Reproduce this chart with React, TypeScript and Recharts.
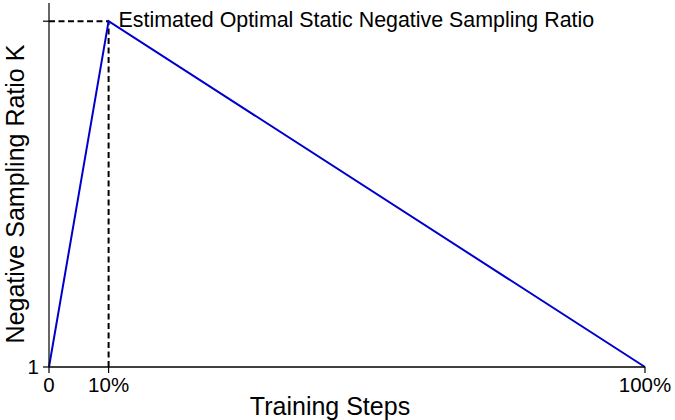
import React from 'react'
import { LineChart, Line, XAxis, YAxis, ReferenceLine, Label } from 'recharts'

// training progress (%) and negative sampling ratio
const steps = [0, 10, 100]
const ratio = [1, 20, 1]
const peakStep = 10
const peakRatio = 20
const xTicks = [0, 10, 100]
const xTickLabels: Record<number, string> = { 0: '0', 10: '10%', 100: '100%' }
const yTicks = [1, 20]
const yTickLabels: Record<number, string> = { 1: '1', 20: '' }

const data = steps.map((s, i) => ({ step: s, k: ratio[i] }))

const font = '"Liberation Sans", Arial, sans-serif'

const XTick = ({ x, y, payload }: any) => (
  <text x={x} y={y + 17} textAnchor="middle" fontSize={20.5} fontFamily={font} fill="#000">
    {xTickLabels[payload.value]}
  </text>
)

const YTick = ({ x, y, payload }: any) => (
  <text x={x - 2} y={y + 7} textAnchor="end" fontSize={20.5} fontFamily={font} fill="#000">
    {yTickLabels[payload.value]}
  </text>
)

export default function App() {
  return (
    <div style={{ position: 'absolute', left: 0, top: 0, fontFamily: font }}>
      <LineChart width={675} height={420} data={data} margin={{ top: 3, right: 30, bottom: 0, left: 0 }}>
        <XAxis
          dataKey="step"
          type="number"
          domain={[0, 100]}
          ticks={xTicks}
          height={53}
          tickSize={6}
          tickMargin={2}
          stroke="#000"
          tickLine={{ stroke: '#000', strokeWidth: 1.2 }}
          axisLine={{ stroke: '#000', strokeWidth: 1.5 }}
          tick={<XTick />}
        >
          <Label
            content={({ viewBox }: any) => (
              <text x={viewBox.x + viewBox.width / 2 - 17} y={415} textAnchor="middle" fontSize={25} fontFamily={font} fill="#000">
                Training Steps
              </text>
            )}
          />
        </XAxis>
        <XAxis xAxisId="top" orientation="top" type="number" domain={[0, 100]} height={0} tick={false} tickLine={false} axisLine={{ stroke: '#000', strokeWidth: 1.5 }} />
        <YAxis
          type="number"
          domain={[1, 21]}
          ticks={yTicks}
          width={49}
          tickSize={6}
          tickMargin={2}
          stroke="#000"
          tickLine={{ stroke: '#000', strokeWidth: 1.2 }}
          axisLine={{ stroke: '#000', strokeWidth: 1.2 }}
          tick={<YTick />}
        >
          <Label
            content={({ viewBox }: any) => {
              const cx = 24
              const cy = viewBox.y + viewBox.height / 2 + 9
              return (
                <text x={cx} y={cy} transform={`rotate(-90 ${cx} ${cy})`} textAnchor="middle" fontSize={25} fontFamily={font} fill="#000">
                  Negative Sampling Ratio K
                </text>
              )
            }}
          />
        </YAxis>
        <YAxis yAxisId="right" orientation="right" type="number" domain={[1, 21]} width={0} tick={false} tickLine={false} axisLine={{ stroke: '#000', strokeWidth: 1.2 }} />
        <ReferenceLine
          segment={[{ x: 0, y: peakRatio }, { x: peakStep, y: peakRatio }]}
          stroke="#000"
          strokeWidth={2}
          strokeDasharray="6 3.5"
        />
        <ReferenceLine
          segment={[{ x: peakStep, y: 1 }, { x: peakStep, y: peakRatio }]}
          stroke="#000"
          strokeWidth={2}
          strokeDasharray="6 3.5"
        >
          <Label
            content={({ viewBox }: any) => (
              <text x={viewBox.x + 10} y={viewBox.y + 6} fontSize={21.4} fontFamily={font} fill="#000">
                Estimated Optimal Static Negative Sampling Ratio
              </text>
            )}
          />
        </ReferenceLine>
        <Line dataKey="k" stroke="#0000CC" strokeWidth={2} dot={false} isAnimationActive={false} />
      </LineChart>
    </div>
  )
}
